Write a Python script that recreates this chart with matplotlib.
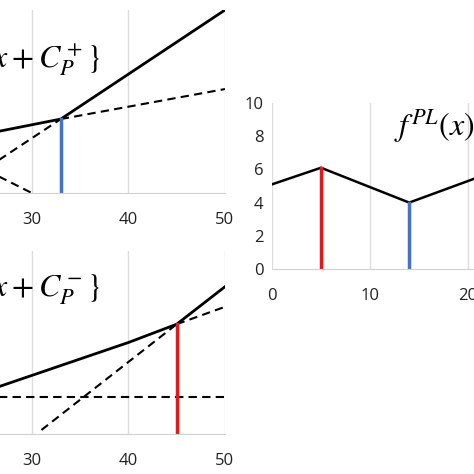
import matplotlib
matplotlib.use("Agg")
import matplotlib.pyplot as plt

plt.rcParams["mathtext.fontset"] = "stix"
plt.rcParams["font.family"] = ["Open Sans", "DejaVu Sans"]

# top-left panel: max of lines
tl_solid_x = [0, 33, 50]
tl_solid_y = [0.6, 4.04, 10.0]
tl_dash1_x = [33, 50]
tl_dash1_y = [4.04, 5.68]
tl_dash2_x = [20, 33]
tl_dash2_y = [-0.5, 4.04]
tl_dash3_x = [20, 30]
tl_dash3_y = [2.65, 0.0]
tl_mark = 33

# bottom-left panel
bl_curve_x = [0, 10, 20, 25, 30, 35, 40, 45, 50]
bl_curve_y = [-0.6, 0.3, 1.5, 2.3, 3.2, 4.1, 5.0, 6.0, 8.05]
bl_flat_x = [0, 50]
bl_flat_y = [2.02, 2.02]
bl_steep_x = [31, 45]
bl_steep_y = [0.22, 6.0]
bl_tan_x = [45, 50]
bl_tan_y = [6.0, 6.95]
bl_mark = 45

# right panel: piecewise linear f^PL(x)
pl_x = [0, 5, 14, 20, 25]
pl_y = [5.1, 6.1, 4.0, 5.3, 6.4]
pl_red = 5
pl_blue = 14

W = H = 474
DASH = (0, (4, 2.5))


def ax_px(fig, left, right, top, bottom):
    return fig.add_axes([left / W, 1 - bottom / H, (right - left) / W, (bottom - top) / H])


def style(ax, xticks):
    for s in ["top", "right", "left"]:
        ax.spines[s].set_visible(False)
    ax.spines["bottom"].set_color("#d0d0d0")
    ax.set_xticks(xticks)
    ax.grid(axis="x", color="#dddddd", lw=1)
    ax.tick_params(length=0, labelsize=12, pad=14, colors="#222222")
    ax.set_axisbelow(True)


fig = plt.figure(figsize=(4.74, 4.74), dpi=100)

# top-left (cropped at the left)
ax1 = ax_px(fig, -258, 225, 10, 193)
ax1.set_xlim(0, 50)
ax1.set_ylim(0, 10)
style(ax1, [10, 20, 30, 40, 50])
ax1.set_yticks([])
ax1.plot(tl_solid_x, tl_solid_y, color="black", lw=2, solid_capstyle="butt")
ax1.plot(tl_dash1_x, tl_dash1_y, color="black", ls=DASH, lw=1.5)
ax1.plot(tl_dash2_x, tl_dash2_y, color="black", ls=DASH, lw=1.5)
ax1.plot(tl_dash3_x, tl_dash3_y, color="black", ls=DASH, lw=1.5)
ax1.plot([tl_mark, tl_mark], [0, tl_solid_y[1]], color="#4472c4", lw=2.5)
ax1.text(37.1, 7.27, r"$\max\{A_P^+x+C_P^+\}$", fontsize=23, ha="right", va="center")

# bottom-left (cropped at the left)
ax2 = ax_px(fig, -258, 225, 251, 434)
ax2.set_xlim(0, 50)
ax2.set_ylim(0, 10)
style(ax2, [10, 20, 30, 40, 50])
ax2.set_yticks([])
ax2.plot(bl_curve_x, bl_curve_y, color="black", lw=2)
ax2.plot(bl_flat_x, bl_flat_y, color="black", ls=DASH, lw=1.5)
ax2.plot(bl_steep_x, bl_steep_y, color="black", ls=DASH, lw=1.5)
ax2.plot(bl_tan_x, bl_tan_y, color="black", ls=DASH, lw=1.5)
ax2.plot([bl_mark, bl_mark], [0, 6.0], color="#e31a1c", lw=2.5)
ax2.text(37.1, 7.9, r"$\max\{A_P^-x+C_P^-\}$", fontsize=23, ha="right", va="center")

# right panel (cropped at the right)
ax3 = ax_px(fig, 272, 272 + 9.8 * 30, 103, 269)
ax3.set_xlim(0, 30)
ax3.set_ylim(0, 10)
style(ax3, [0, 10, 20, 30])
ax3.set_yticks([0, 2, 4, 6, 8, 10])
ax3.tick_params(axis="y", pad=6)
ax3.plot(pl_x, pl_y, color="black", lw=1.8)
ax3.plot([pl_red, pl_red], [0, pl_y[1]], color="#e31a1c", lw=2.5)
ax3.plot([pl_blue, pl_blue], [0, pl_y[2]], color="#4472c4", lw=2.5)
ax3.text(12.4, 8.6, r"$f^{PL}(x)$", fontsize=23, ha="left", va="center")

fig.savefig("out.png", dpi=100)
